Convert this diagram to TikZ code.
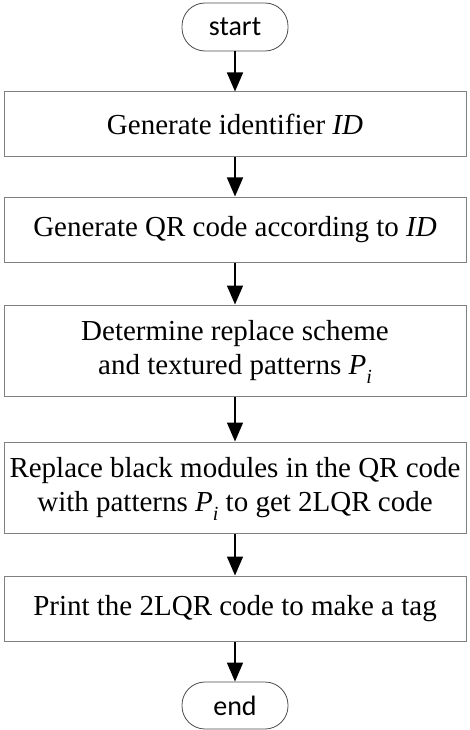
\documentclass[tikz,border=0pt]{standalone}
\usepackage{fontspec}
\setmainfont{Liberation Serif}
\newfontfamily\termfont{Carlito}
\usetikzlibrary{arrows.meta}
\tikzset{
  procbox/.style={draw=black!50, line width=1pt, minimum width=462pt, inner sep=0pt, align=center,
    font=\fontsize{29}{34}\selectfont},
  termbox/.style={draw=black!70, line width=0.8pt, minimum width=106pt, rounded corners=23pt, inner sep=0pt,
    font=\termfont\fontsize{28}{32}\selectfont},
  flow/.style={line width=1.5pt, -{Triangle[width=16pt,length=19pt]}}
}
\newcommand{\ivar}[1]{\textit{#1}}
\newcommand{\pvar}{\textit{P}\raisebox{-0.3em}[0pt][0pt]{\fontsize{20}{20}\selectfont\textit{i}}}
\begin{document}
\begin{tikzpicture}[x=1pt,y=1pt]
\useasboundingbox (0,0) rectangle (470,-730);
\node[termbox, minimum height=48pt] (start) at (235,-27) {start};
\node[procbox, minimum height=65pt] (b1) at (235,-124.5) {Generate identifier \ivar{ID}};
\node[procbox, minimum height=65pt] (b2) at (235,-229.5) {Generate QR code according to \ivar{ID}};
\node[procbox, minimum height=91pt] (b3) at (235,-350.5) {Determine replace scheme\\and textured patterns \pvar};
\node[procbox, minimum height=91pt] (b4) at (235,-487.5) {Replace black modules in the QR code\\with patterns \pvar{} to get 2LQR code};
\node[procbox, minimum height=65pt] (b5) at (235,-608.5) {Print the 2LQR code to make a tag};
\node[termbox, minimum height=47pt] (end) at (235,-705.5) {end};
\draw[flow] (start) -- (b1);
\draw[flow] (b1) -- (b2);
\draw[flow] (b2) -- (b3);
\draw[flow] (b3) -- (b4);
\draw[flow] (b4) -- (b5);
\draw[flow] (b5) -- (end);
\end{tikzpicture}
\end{document}
